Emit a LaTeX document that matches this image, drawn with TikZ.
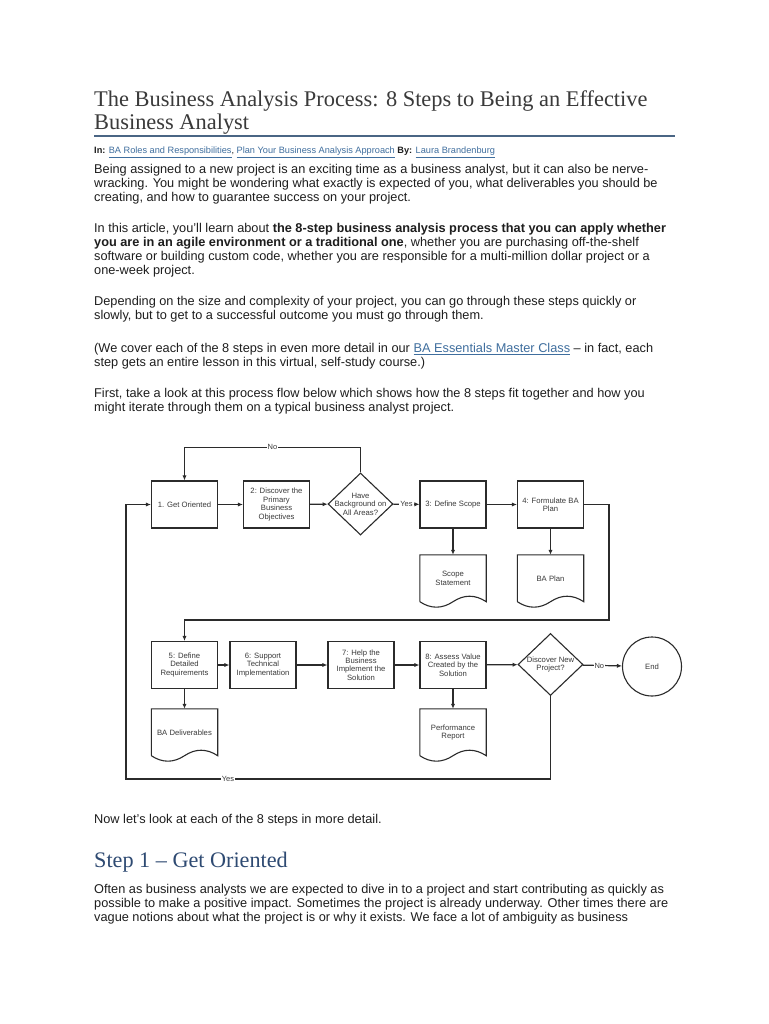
\documentclass[tikz,border=0pt]{standalone}
\usepackage{fontspec}
\setmainfont{Liberation Sans}
\newfontfamily\serifttl{Liberation Serif}
\usetikzlibrary{shapes.geometric,arrows.meta,calc}
\definecolor{titlegray}{HTML}{3A3A3A}
\definecolor{rulecol}{HTML}{4A6584}
\definecolor{headblue}{HTML}{2E4A72}
\definecolor{linkblue}{HTML}{3F6E9E}
\definecolor{txt}{HTML}{1E1E1E}
\definecolor{dline}{HTML}{2B2B2B}
\definecolor{dtext}{HTML}{3A3A3A}
\newcommand{\lnk}[1]{\textcolor{linkblue}{\underline{#1}}}
\newcommand{\diafont}{\fontsize{7.7}{8.4}\selectfont}
\newcommand{\docoutline}[1]{%
  \draw[docline] (#1.south west) -- (#1.north west) -- (#1.north east) -- (#1.south east)
    .. controls ([xshift=-11pt,yshift=7.3pt]#1.south east) and ([xshift=11pt,yshift=7.3pt]#1.south) .. (#1.south)
    .. controls ([xshift=-11pt,yshift=-7.3pt]#1.south) and ([xshift=11pt,yshift=-7.3pt]#1.south west) .. (#1.south west);}
\begin{document}
\begin{tikzpicture}[x=1pt,y=-1pt,
  titletext/.style={anchor=base west, inner sep=0pt, font=\serifttl\fontsize{22.4}{24}\selectfont, text=titlegray},
  headtext/.style={anchor=base west, inner sep=0pt, font=\serifttl\fontsize{22.2}{24}\selectfont, text=headblue},
  bylinetext/.style={anchor=base west, inner sep=0pt, font=\fontsize{9.2}{10}\selectfont, text=txt},
  bodytext/.style={anchor=base west, inner sep=0pt, font=\fontsize{12.75}{13.9}\selectfont, text=txt},
  procbox/.style={draw=dline, line width=1.1pt, fill=white, minimum width=66pt, minimum height=47pt,
    inner sep=1pt, align=center, font=\diafont, text=dtext},
  docnode/.style={minimum width=66pt, minimum height=46.5pt, inner sep=0pt, align=center, font=\diafont, text=dtext},
  docline/.style={draw=dline, line width=1.1pt},
  decision/.style={diamond, draw=dline, line width=1.1pt, fill=white, minimum width=65pt, minimum height=62pt, inner sep=0pt},
  endnode/.style={circle, draw=dline, line width=1.1pt, fill=white, minimum size=59pt, inner sep=0pt, font=\diafont, text=dtext},
  flow/.style={draw=dline, line width=1.2pt, -{Latex[length=5pt,width=4.2pt]}},
  lbl/.style={fill=white, inner sep=1pt, font=\fontsize{7.5}{8}\selectfont, text=dtext}
]
\fill[white] (0,0) rectangle (768,1024);
\useasboundingbox (0,0) rectangle (768,1024);

% ---------- header ----------
\node[titletext] (title1) at (94,107) {The Business Analysis Process: 8 Steps to Being an Effective};
\node[titletext] (title2) at (94,130) {Business Analyst};
\draw[rulecol, line width=1.3pt] (94,136) -- (675,136);
\node[bylinetext] (byline) at (94,153.5) {\textbf{In:} \lnk{BA Roles and Responsibilities}, \lnk{Plan Your Business Analysis Approach} \textbf{By:} \lnk{Laura Brandenburg}};

% ---------- body ----------
\node[bodytext] (p1a) at (94,173.5) {Being assigned to a new project is an exciting time as a business analyst, but it can also be nerve-};
\node[bodytext] (p1b) at (94,187.4) {wracking. You might be wondering what exactly is expected of you, what deliverables you should be};
\node[bodytext] (p1c) at (94,201.3) {creating, and how to guarantee success on your project.};

\node[bodytext] (p2a) at (94,232.5) {In this article, you’ll learn about \textbf{the 8-step business analysis process that you can apply whether}};
\node[bodytext] (p2b) at (94,246.4) {\textbf{you are in an agile environment or a traditional one}, whether you are purchasing off-the-shelf};
\node[bodytext] (p2c) at (94,260.3) {software or building custom code, whether you are responsible for a multi-million dollar project or a};
\node[bodytext] (p2d) at (94,274.2) {one-week project.};

\node[bodytext] (p3a) at (94,305.5) {Depending on the size and complexity of your project, you can go through these steps quickly or};
\node[bodytext] (p3b) at (94,319.4) {slowly, but to get to a successful outcome you must go through them.};

\node[bodytext] (p4a) at (94,352.5) {(We cover each of the 8 steps in even more detail in our \lnk{BA Essentials Master Class} – in fact, each};
\node[bodytext] (p4b) at (94,366.4) {step gets an entire lesson in this virtual, self-study course.)};

\node[bodytext] (p5a) at (94,397.5) {First, take a look at this process flow below which shows how the 8 steps fit together and how you};
\node[bodytext] (p5b) at (94,411.4) {might iterate through them on a typical business analyst project.};

% ---------- diagram ----------
\node[procbox] (b1) at (184.5,504.5) {1. Get Oriented};
\node[procbox] (b2) at (276.5,504.5) {2: Discover the\\Primary\\Business\\Objectives};
\node[decision, label={[align=center, font=\diafont, text=dtext]center:{Have\\Background on\\All Areas?}}] (d1) at (360.5,504) {};
\node[procbox] (b3) at (453,504.5) {3: Define Scope};
\node[procbox] (b4) at (550.5,504.5) {4: Formulate BA\\Plan};
\node[docnode] (scope) at (453,578.25) {Scope\\Statement};
\node[docnode] (baplan) at (550.5,578.25) {BA Plan};
\docoutline{scope}
\docoutline{baplan}

\node[procbox] (b5) at (184.5,665) {5: Define\\Detailed\\Requirements};
\node[procbox] (b6) at (263,665) {6: Support\\Technical\\Implementation};
\node[procbox] (b7) at (361,665) {7: Help the\\Business\\Implement the\\Solution};
\node[procbox] (b8) at (453,665) {8: Assess Value\\Created by the\\Solution};
\node[decision, label={[align=center, font=\diafont, text=dtext]center:{Discover New\\Project?}}] (d2) at (550.5,664.5) {};
\node[endnode] (end) at (652,666.5) {End};
\node[docnode] (badel) at (184.5,732.25) {BA Deliverables};
\node[docnode] (perf) at (453,732.25) {Performance\\Report};
\docoutline{badel}
\docoutline{perf}

\coordinate (c1) at (609,620);
\coordinate (c2) at (126,779);

\draw[flow] (b1) -- (b2);
\draw[flow] (b2) -- (d1);
\draw[flow] (d1) -- node[lbl] {Yes} (b3);
\draw[flow] (b3) -- (b4);
\draw[flow] (d1.north) -- ++(0,-25) -| node[lbl, pos=0.25] {No} (b1.north);
\draw[flow] (b3.south) -- (scope.north);
\draw[flow] (b4.south) -- (baplan.north);
\draw[flow] (b4.east) -| (c1) -| (b5.north);

\draw[flow] (b5) -- (b6);
\draw[flow] (b6) -- (b7);
\draw[flow] (b7) -- (b8);
\draw[flow] (b8) -- (d2);
\draw[flow] (d2) -- node[lbl, pos=0.42] {No} (end);
\draw[flow] (b5.south) -- (badel.north);
\draw[flow] (b8.south) -- (perf.north);
\draw[flow] (d2.south) |- node[lbl, pos=0.88] {Yes} (c2) |- (b1.west);

% ---------- footer ----------
\node[bodytext] (now) at (94,823.5) {Now let’s look at each of the 8 steps in more detail.};
\node[headtext] (step1) at (94,867) {Step 1 – Get Oriented};
\node[bodytext] (p6a) at (94,893.5) {Often as business analysts we are expected to dive in to a project and start contributing as quickly as};
\node[bodytext] (p6b) at (94,907.4) {possible to make a positive impact. Sometimes the project is already underway. Other times there are};
\node[bodytext] (p6c) at (94,921.3) {vague notions about what the project is or why it exists. We face a lot of ambiguity as business};
\end{tikzpicture}
\end{document}
